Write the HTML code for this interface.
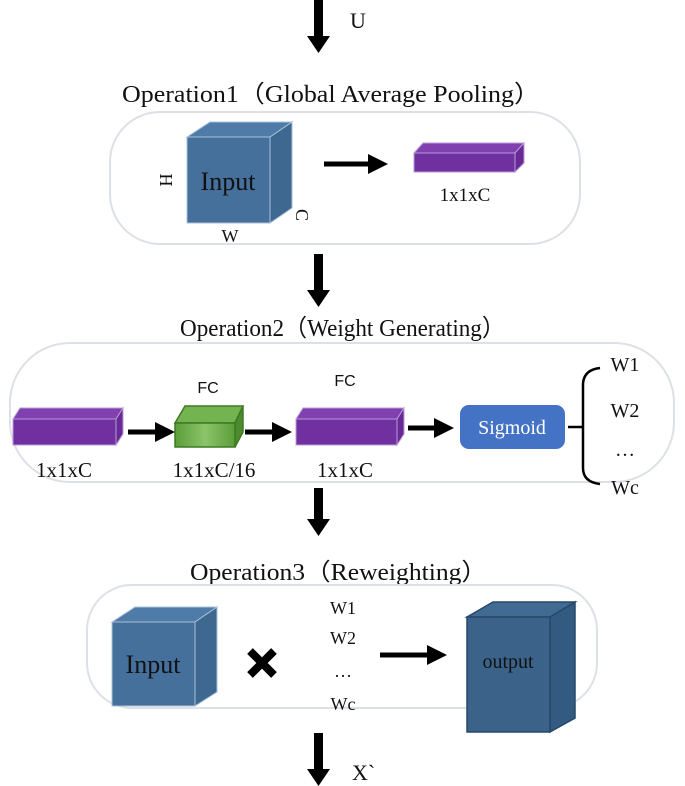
<!DOCTYPE html>
<html><head><style>body{margin:0;background:#fff}svg{display:block}text{font-family:"Liberation Serif",serif;fill:#111}</style></head><body>
<svg width="685" height="786" viewBox="0 0 685 786" xmlns="http://www.w3.org/2000/svg">
<defs>
<marker id="ah" markerWidth="4" markerHeight="4" refX="2" refY="2" orient="auto" markerUnits="strokeWidth"><path d="M0,0 L4,2 L0,4 z" fill="#000"/></marker>
<linearGradient id="g" x1="0" x2="1"><stop offset="0" stop-color="#5b9c3a"/><stop offset="0.5" stop-color="#8cc46a"/><stop offset="1" stop-color="#5b9c3a"/></linearGradient>
</defs>
<g fill="#000">
<path d="M314,0 h9 v36 h7 l-11.5,17 l-11.5,-17 h7z"/>
<path d="M314,254 h9 v36 h7 l-11.5,17 l-11.5,-17 h7z"/>
<path d="M314,488 h9 v31 h7 l-11.5,17 l-11.5,-17 h7z"/>
<path d="M314,733 h9 v36 h7 l-11.5,17 l-11.5,-17 h7z"/>
</g>
<text x="350" y="28" font-size="22">U</text>
<text x="352" y="780" font-size="22">X`</text>
<text x="122" y="102" font-size="24" textLength="418" lengthAdjust="spacingAndGlyphs">Operation1（Global Average Pooling）</text>
<text x="180" y="336" font-size="24" textLength="325" lengthAdjust="spacingAndGlyphs">Operation2（Weight Generating）</text>
<text x="190" y="580" font-size="24" textLength="297" lengthAdjust="spacingAndGlyphs">Operation3（Reweighting）</text>
<rect x="110" y="112" width="470" height="132" rx="50" fill="none" stroke="#dde0e6" stroke-width="2"/>
<rect x="10" y="343" width="664" height="139" rx="60" fill="none" stroke="#dde0e6" stroke-width="2"/>
<rect x="87" y="585" width="510" height="123" rx="45" fill="none" stroke="#dde0e6" stroke-width="2"/>
<g stroke="#a8c0da" stroke-width="1">
<path d="M187,137 L210,122 L292,122 L270,137z" fill="#4f7ba8"/>
<path d="M270,137 L292,122 L292,208 L270,223z" fill="#3f6891"/>
<rect x="187" y="137" width="83" height="86" fill="#46709c"/>
</g>
<text x="228" y="190" font-size="26" text-anchor="middle">Input</text>
<text x="160" y="180" font-size="18" text-anchor="middle" transform="rotate(90 160 180)">H</text>
<text x="230" y="242" font-size="18" text-anchor="middle">W</text>
<text x="296" y="215" font-size="18" text-anchor="middle" transform="rotate(90 296 215)">C</text>
<line x1="324" y1="164" x2="378" y2="164" stroke="#000" stroke-width="5" marker-end="url(#ah)"/>
<g stroke="#b99bd6" stroke-width="1">
<path d="M414,153 L423,143 L524,143 L515,153z" fill="#8040b0"/>
<path d="M515,153 L524,143 L524,163 L515,172z" fill="#6a2a96"/>
<rect x="414" y="153" width="101" height="19" fill="#7030a0"/>
</g>
<text x="465" y="201" font-size="19" text-anchor="middle">1x1xC</text>
<g stroke="#b99bd6" stroke-width="1">
<path d="M13,419 L20,408 L123,408 L116,419z" fill="#8040b0"/>
<path d="M116,419 L123,408 L123,434 L116,445z" fill="#6a2a96"/>
<rect x="13" y="419" width="103" height="26" fill="#7030a0"/>
<path d="M296,419 L303,408 L404,408 L397,419z" fill="#8040b0"/>
<path d="M397,419 L404,408 L404,434 L397,445z" fill="#6a2a96"/>
<rect x="296" y="419" width="101" height="26" fill="#7030a0"/>
</g>
<g stroke="#3d7a22" stroke-width="1.5">
<path d="M175,423 L185,406 L243,406 L235,423z" fill="#74b450"/>
<path d="M235,423 L243,406 L243,432 L235,447z" fill="#4e8a30"/>
<rect x="175" y="423" width="60" height="24" fill="url(#g)"/>
</g>
<line x1="128" y1="432" x2="165" y2="432" stroke="#000" stroke-width="5" marker-end="url(#ah)"/>
<line x1="245" y1="432" x2="282" y2="432" stroke="#000" stroke-width="5" marker-end="url(#ah)"/>
<line x1="408" y1="428" x2="444" y2="428" stroke="#000" stroke-width="5" marker-end="url(#ah)"/>
<text x="208" y="393" font-size="16" text-anchor="middle" style="font-family:'Liberation Sans',sans-serif">FC</text>
<text x="345" y="386" font-size="16" text-anchor="middle" style="font-family:'Liberation Sans',sans-serif">FC</text>
<text x="64" y="477" font-size="21" text-anchor="middle">1x1xC</text>
<text x="214" y="477" font-size="21" text-anchor="middle">1x1xC/16</text>
<text x="345" y="477" font-size="21" text-anchor="middle">1x1xC</text>
<rect x="460" y="405" width="105" height="44" rx="9" fill="#4472c4"/>
<text x="512" y="434" font-size="20" text-anchor="middle" style="fill:#fff">Sigmoid</text>
<path d="M568,427 H583 M600,368 Q583,370 583,385 V468 Q583,482 600,484" stroke="#000" stroke-width="2.5" fill="none"/>
<text x="625" y="371" font-size="20" text-anchor="middle">W1</text>
<text x="625" y="417" font-size="20" text-anchor="middle">W2</text>
<text x="625" y="456" font-size="20" text-anchor="middle">…</text>
<text x="625" y="494" font-size="20" text-anchor="middle">Wc</text>
<g stroke="#a8c0da" stroke-width="1">
<path d="M112,622 L135,607 L217,607 L195,622z" fill="#4f7ba8"/>
<path d="M195,622 L217,607 L217,692 L195,706z" fill="#3f6891"/>
<rect x="112" y="622" width="83" height="84" fill="#46709c"/>
</g>
<text x="153" y="673" font-size="26" text-anchor="middle">Input</text>
<path d="M250,651 L274,675 M274,651 L250,675" stroke="#000" stroke-width="8"/>
<text x="343" y="614" font-size="18" text-anchor="middle">W1</text>
<text x="343" y="644" font-size="18" text-anchor="middle">W2</text>
<text x="343" y="677" font-size="18" text-anchor="middle">…</text>
<text x="343" y="710" font-size="18" text-anchor="middle">Wc</text>
<line x1="380" y1="655" x2="437" y2="655" stroke="#000" stroke-width="5" marker-end="url(#ah)"/>
<g stroke="#27486a" stroke-width="1.5">
<path d="M467,617 L493,602 L575,602 L550,617z" fill="#416b93"/>
<path d="M550,617 L575,602 L575,718 L550,732z" fill="#335a80"/>
<rect x="467" y="617" width="83" height="115" fill="#3b6389"/>
</g>
<text x="508" y="668" font-size="20" text-anchor="middle">output</text>
</svg>
</body></html>
